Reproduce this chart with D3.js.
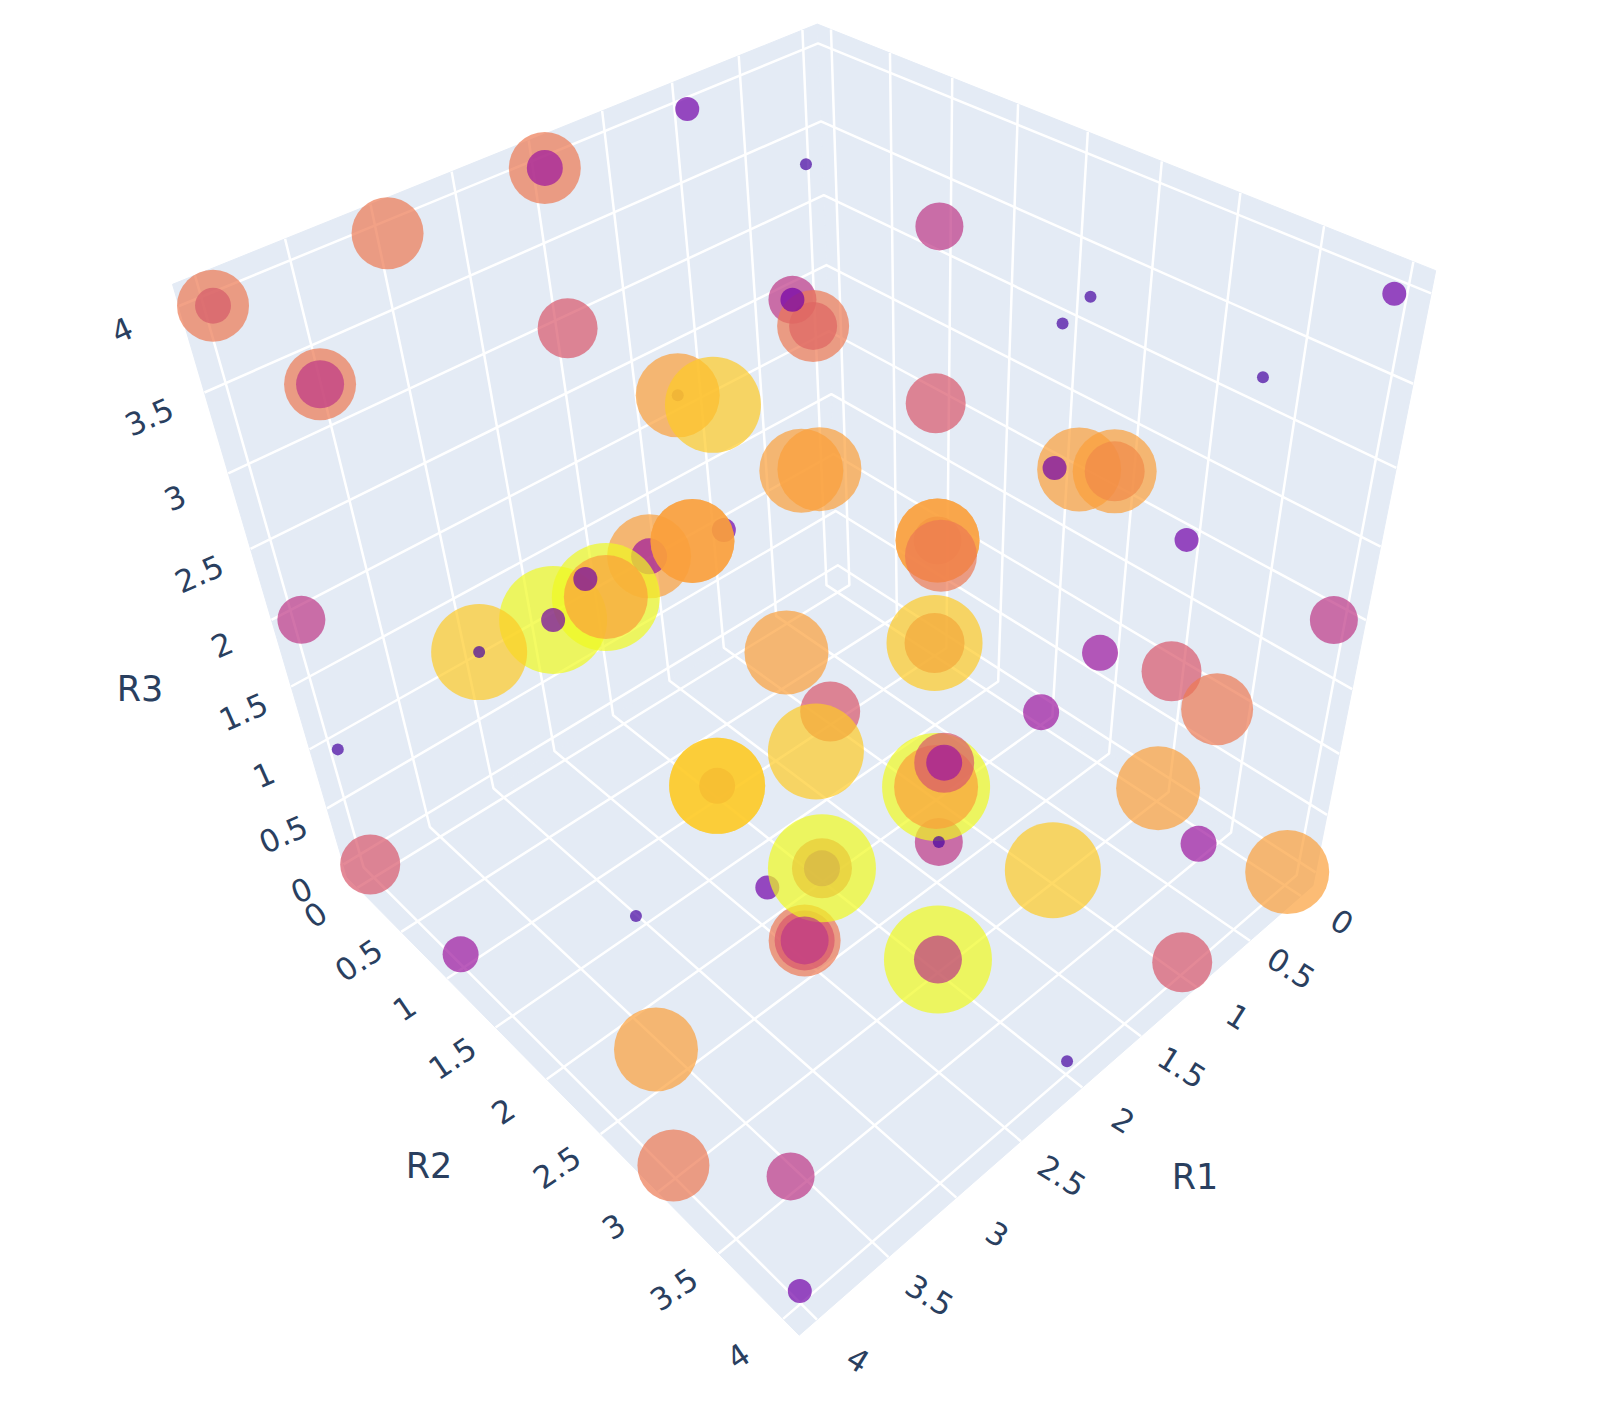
<!DOCTYPE html>
<html>
<head>
<meta charset="utf-8">
<script src="https://cdn.jsdelivr.net/npm/d3@7"></script>
<style>
body { margin: 0; background: #fff; }
text { font-family: "DejaVu Sans", sans-serif; fill: #2a3f5f; }
</style>
</head>
<body>
<script>
// draw order is the list order, overlapping discs rely on it
var r1 = [4,4,2,2,3,1,2,4,4,1,2,1,2,2,2,1,2,1,3,3,1,2,2,3,2,2,4,3,4,4,4,3,1,1,1,0,1,0,0,1,2,2,0,0,1,1,1,2,0,0,2,0,0,1,0,0,1,0,1,1,2,2,2,2,1,1,3,3,2,3,3,4,2,2,2,3,1,2,2,2,2,4,4,4,4,4,4,4,4]
var r2 = [0,0,0,0,0,0,0,1,1,1,2,1,2,1,1,0,2,1,2,2,0,1,1,1,0,0,3,1,2,2,0,3,1,2,3,2,4,4,1,3,4,4,2,3,2,2,2,3,1,1,4,4,3,4,2,3,4,4,3,4,4,3,3,3,2,2,4,4,3,3,3,4,2,2,2,3,1,2,1,1,1,4,4,0,0,1,3,3,3]
var r3 = [4,4,4,4,4,4,3,4,4,3,4,3,4,3,3,2,3,2,3,3,1,2,2,2,1,1,4,2,3,3,2,3,4,4,4,3,4,4,2,3,4,4,2,2,2,2,2,3,0,0,3,2,1,2,0,0,1,0,0,0,0,0,0,1,0,0,3,3,1,1,1,3,0,0,0,1,0,1,0,0,0,0,1,1,0,0,2,1,0]
var val = [3,6,6,3,6,2,5,6,4,4,4,6,2,1,7,8,7,7,7,3,2,7,7,9,9,7,2,2,8,1,4,7,1,4,1,1,1,2,5,7,5,7,2,2,4,7,7,6,5,8,3,4,5,6,3,7,3,7,8,5,1,9,4,4,9,7,5,3,1,6,5,2,5,3,9,4,5,8,3,8,8,2,4,1,5,3,1,7,6]

var axisTicks = [0,0.5,1,1.5,2,2.5,3,3.5,4]
var axisRange = [-0.12,4.12]

var unit = d3.scaleLinear().domain(axisRange).range([0,1])
var radius = d3.scaleLinear().domain([0,9]).range([0,54])
var colour = d3.scaleLinear().domain([0,9]).range([0,1])

// perspective camera, fitted on the box corners and the markers
function project(a, b, c){
	var u = unit(a), v = unit(b), w = unit(c)
	var d = 1 - 0.15260552*u - 0.17849108*v - 0.19711125*w
	return [
		(838.31713 - 543.98699*u + 240.25259*v - 182.12965*w) / d,
		(577.89379 + 165.55602*u + 149.68330*v - 558.57079*w) / d
	]
}

var lo = axisRange[0], hi = axisRange[1]
var svg = d3.select("body").append("svg")
	.attr("width", 1600)
	.attr("height", 1406)
	.style("display", "block")

var line = d3.line()

//THE THREE BACK PANELS
var panels = [
	[[lo,lo,lo],[hi,lo,lo],[hi,hi,lo],[lo,hi,lo]],
	[[lo,lo,lo],[hi,lo,lo],[hi,lo,hi],[lo,lo,hi]],
	[[lo,lo,lo],[lo,hi,lo],[lo,hi,hi],[lo,lo,hi]]
]
svg.append("g").selectAll("path")
	.data(panels)
	.enter().append("path")
	.attr("d", function(d){ return line(d.map(function(p){ return project(p[0],p[1],p[2]) })) + "Z" })
	.style("fill", "#e4ebf5")
	.style("stroke", "#e4ebf5")
	.style("stroke-width", 1)

//GRID LINES, EACH ONE BENDS ROUND FROM A WALL ONTO THE NEXT PANEL
var gridPaths = []
axisTicks.forEach(function(t){
	gridPaths.push([[t,lo,hi],[t,lo,lo],[t,hi,lo]])
	gridPaths.push([[lo,t,hi],[lo,t,lo],[hi,t,lo]])
	gridPaths.push([[hi,lo,t],[lo,lo,t],[lo,hi,t]])
})
svg.append("g").selectAll("path")
	.data(gridPaths)
	.enter().append("path")
	.attr("d", function(d){ return line(d.map(function(p){ return project(p[0],p[1],p[2]) })) })
	.style("fill", "none")
	.style("stroke", "#fff")
	.style("stroke-width", 2.5)
	.style("stroke-linejoin", "round")

//TICK LABELS, PUSHED OUT FROM THE BOX EDGE BY AN OFFSET THAT CHANGES ALONG THE AXIS
var axes = [
	{edge: function(t){ return project(t,hi,lo) }, angle: 32, from: [41,26], to: [41,40]},
	{edge: function(t){ return project(hi,t,lo) }, angle: -34, from: [-42,27], to: [-45,37]},
	{edge: function(t){ return project(hi,lo,t) }, angle: -24, from: [-42,26], to: [-57,24]}
]
axes.forEach(function(axis){
	var shift = d3.scaleLinear().domain([0,4]).range([axis.from, axis.to])
	svg.append("g").selectAll("text")
		.data(axisTicks)
		.enter().append("text")
		.attr("transform", function(t){
			var p = axis.edge(t), s = shift(t)
			return "translate(" + (p[0]+s[0]) + "," + (p[1]+s[1]) + ") rotate(" + axis.angle + ")"
		})
		.attr("text-anchor", "middle")
		.attr("dy", "0.36em")
		.style("font-size", "31px")
		.text(function(t){ return t })
})

//AXIS TITLES
var titles = [["R1",1195,1176],["R2",429,1165],["R3",140,688]]
svg.append("g").selectAll("text")
	.data(titles)
	.enter().append("text")
	.attr("x", function(d){ return d[1] })
	.attr("y", function(d){ return d[2] })
	.attr("text-anchor", "middle")
	.attr("dy", "0.36em")
	.style("font-size", "35px")
	.text(function(d){ return d[0] })

//THE MARKERS
svg.append("g").selectAll("circle")
	.data(val)
	.enter().append("circle")
	.attr("cx", function(d,i){ return project(r1[i],r2[i],r3[i])[0] })
	.attr("cy", function(d,i){ return project(r1[i],r2[i],r3[i])[1] })
	.attr("r", function(d){ return radius(d) })
	.style("fill", function(d){ return d3.interpolatePlasma(colour(d)) })
	.style("fill-opacity", 0.7)
</script>
</body>
</html>
